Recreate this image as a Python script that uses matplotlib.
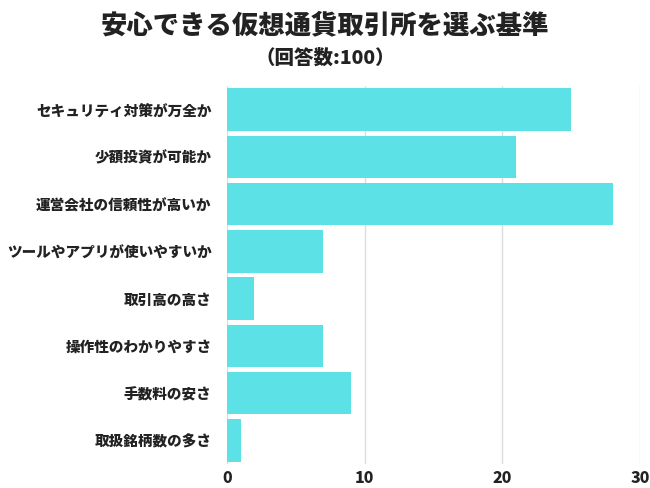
import matplotlib
matplotlib.use("Agg")
import matplotlib.pyplot as plt

plt.rcParams['font.family'] = ['Noto Sans CJK JP', 'DejaVu Sans']

# data
labels = ['セキュリティ対策が万全か', '少額投資が可能か', '運営会社の信頼性が高いか',
          'ツールやアプリが使いやすいか', '取引高の高さ', '操作性のわかりやすさ',
          '手数料の安さ', '取扱銘柄数の多さ']
values = [25, 21, 28, 7, 2, 7, 9, 1]
xticks = [0, 10, 20, 30]

fig = plt.figure(figsize=(6.5, 4.88), dpi=100)
ax = fig.add_axes([0.349, 0.049, 0.636, 0.775])

ypos = list(range(len(labels)))
ax.barh(ypos, values, height=0.9, color='#5CE1E6', zorder=2)
ax.set_ylim(len(labels) - 0.5, -0.5)
ax.set_xlim(0, 30)

ax.set_yticks(ypos)
ax.set_yticklabels(labels, fontsize=10.5, fontweight='black', color='#222222')
ax.set_xticks(xticks)
ax.set_xticklabels([str(t) for t in xticks], fontsize=11.5, fontweight='black', color='#222222')
ax.tick_params(axis='y', length=0, pad=11)
ax.tick_params(axis='x', length=0, pad=5)

ax.grid(axis='x', color='#dddddd', linewidth=1, zorder=0)
for s in ax.spines.values():
    s.set_visible(False)

fig.text(0.5, 0.948, '安心できる仮想通貨取引所を選ぶ基準', ha='center', va='center',
         fontsize=19, fontweight='black', color='#222222')
fig.text(0.5, 0.882, '（回答数:100）', ha='center', va='center',
         fontsize=14, fontweight='black', color='#222222')

fig.savefig('out.png', dpi=100)
